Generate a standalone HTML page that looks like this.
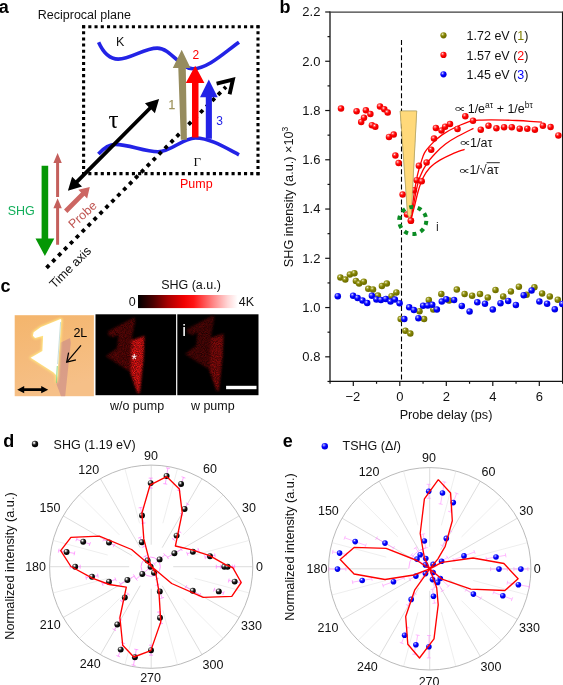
<!DOCTYPE html>
<html><head><meta charset="utf-8"><title>Figure</title>
<style>
html,body{margin:0;padding:0;background:#fff;}
svg{display:block;}
text{font-family:"Liberation Sans","DejaVu Sans",sans-serif;font-size:12.5px;fill:#111;}
.b{font-weight:bold;font-size:18px;fill:#000;}
.ser{font-family:"Liberation Serif","DejaVu Serif",serif;}
</style></head><body>
<svg width="563" height="685" viewBox="0 0 563 685">
<defs>
<radialGradient id="gR" cx="0.36" cy="0.32" r="0.7"><stop offset="0" stop-color="#ffffff"/><stop offset="0.2" stop-color="#ff6060"/><stop offset="0.5" stop-color="#ff0000"/><stop offset="1" stop-color="#e00000"/></radialGradient>
<radialGradient id="gO" cx="0.36" cy="0.32" r="0.7"><stop offset="0" stop-color="#fffff0"/><stop offset="0.2" stop-color="#b0b048"/><stop offset="0.5" stop-color="#808000"/><stop offset="1" stop-color="#6a6a00"/></radialGradient>
<radialGradient id="gB" cx="0.36" cy="0.32" r="0.7"><stop offset="0" stop-color="#ffffff"/><stop offset="0.2" stop-color="#6060ff"/><stop offset="0.5" stop-color="#0000ff"/><stop offset="1" stop-color="#0000d8"/></radialGradient>
<radialGradient id="gK" cx="0.36" cy="0.32" r="0.7"><stop offset="0" stop-color="#ffffff"/><stop offset="0.12" stop-color="#e8e8e8"/><stop offset="0.3" stop-color="#606060"/><stop offset="0.55" stop-color="#101010"/><stop offset="1" stop-color="#000000"/></radialGradient>
<linearGradient id="cb" x1="0" x2="1" y1="0" y2="0"><stop offset="0" stop-color="#000"/><stop offset="0.15" stop-color="#4a0000"/><stop offset="0.3" stop-color="#a80000"/><stop offset="0.46" stop-color="#f00000"/><stop offset="0.56" stop-color="#ff1414"/><stop offset="0.75" stop-color="#ff8484"/><stop offset="0.9" stop-color="#ffd6d6"/><stop offset="1" stop-color="#fff"/></linearGradient>
<linearGradient id="opt" x1="0" x2="0.3" y1="0" y2="1"><stop offset="0" stop-color="#f4b56c"/><stop offset="1" stop-color="#f6c088"/></linearGradient>
<filter id="bl0" x="-20%" y="-20%" width="140%" height="140%"><feGaussianBlur stdDeviation="0.45"/></filter>
<filter id="nz" filterUnits="userSpaceOnUse" x="95" y="314" width="164" height="82" color-interpolation-filters="sRGB"><feTurbulence type="fractalNoise" baseFrequency="1.1" numOctaves="2" seed="7" result="n"/><feColorMatrix in="n" type="matrix" values="1.1 0 0 0 0.12  1.1 0 0 0 0.12  1.1 0 0 0 0.12  0 0 0 0 1" result="m"/><feGaussianBlur in="SourceGraphic" stdDeviation="0.9" result="sg"/><feComposite in="sg" in2="m" operator="arithmetic" k1="1" k2="0" k3="0" k4="0" result="c"/><feGaussianBlur in="c" stdDeviation="0.5"/></filter>
<filter id="bl1" x="-20%" y="-20%" width="140%" height="140%"><feGaussianBlur stdDeviation="0.7"/></filter>
<filter id="bl2" x="-20%" y="-20%" width="140%" height="140%"><feGaussianBlur stdDeviation="1.2"/></filter>
</defs>
<rect width="563" height="685" fill="#fff"/>

<g id="pa">
<text class="b" x="-1.2" y="13.1">a</text>
<text x="37.8" y="18.7">Reciprocal plane</text>
<g stroke="#000" stroke-width="3.1" fill="none">
<line x1="82.05" y1="26.7" x2="259.55" y2="26.7" stroke-dasharray="3.1 3.129"/>
<line x1="82.05" y1="173.6" x2="259.55" y2="173.6" stroke-dasharray="3.1 3.129"/>
<line x1="83.6" y1="25.15" x2="83.6" y2="175.15" stroke-dasharray="3.1 3.021"/>
<line x1="258.0" y1="25.15" x2="258.0" y2="175.15" stroke-dasharray="3.1 3.021"/>
</g>
<g stroke="#2323e6" stroke-width="3.6" fill="none" stroke-linecap="butt">
<path d="M98.6,42.2 C103,52 110,59.1 118.2,59.1 C131,59.1 144,48.1 157.3,48.1 C171,48.1 180,68.8 192.9,68.8 C208,68.8 225,52 239,42.2"/>
<path d="M98.4,154 C103,149 108,144.4 115.4,144.4 C129,144.4 144,151.8 158,151.8 C172,151.8 182,138 195.5,138 C210,138 226,148 239,154.8"/>
</g>
<line x1="46.5" y1="267.8" x2="226" y2="86.8" stroke="#000" stroke-width="3.8" stroke-dasharray="3.8 4.6"/>
<polyline points="216.6,83.6 232.9,79.7 229.6,94.2" fill="none" stroke="#000" stroke-width="3.9" stroke-linejoin="miter"/>
<polygon points="178.3,68 180.8,139.7 186.9,139.7 185.8,68 190.5,68 181.7,49.8 172.8,68" fill="#968c5e"/>
<polygon points="192,83 192,137.5 198.5,137.5 198.5,83 204.4,83 195.2,65.8 185.8,83" fill="#ff0000"/>
<polygon points="205.8,97.3 205.8,138.8 211.9,138.8 211.9,97.3 217.7,97.3 208.8,79.5 200,97.3" fill="#2323e6"/>
<text x="192.6" y="58.7" style="fill:#ff0000;font-size:12px">2</text>
<text x="168.6" y="108.6" style="fill:#a0955f;font-size:12px;stroke:#a0955f;stroke-width:0.25">1</text>
<text x="216.3" y="124.7" style="fill:#2323e6;font-size:12px">3</text>
<text x="116" y="45.8">K</text>
<text class="ser" x="193.5" y="166" style="font-size:13px">Γ</text>
<text x="180" y="187.8" style="fill:#ff0000">Pump</text>
<text class="ser" x="108.5" y="128" style="font-size:25px;fill:#000">τ</text>
<polygon points="67.90,190.80 82.03,186.51 78.41,182.92 151.29,109.56 154.90,113.16 159.10,99.00 144.97,103.29 148.59,106.88 75.71,180.24 72.10,176.64" fill="#000"/>
<polygon points="41.6,165.8 48.2,165.8 48.2,238.5 54.3,238.5 44.9,256 35.5,238.5 41.6,238.5" fill="#059705"/>
<text x="7.7" y="214.5" style="fill:#12ae5a">SHG</text>
<polygon points="59.10,197.00 59.10,163.10 61.80,163.10 57.60,153.10 53.40,163.10 56.10,163.10 56.10,197.00" fill="#c45f5c"/>
<polygon points="59.10,244.70 59.10,208.30 61.80,208.30 57.60,198.30 53.40,208.30 56.10,208.30 56.10,244.70" fill="#c45f5c"/>
<polygon points="67.40,212.90 84.43,195.87 87.15,198.59 89.80,187.10 78.31,189.75 81.03,192.47 64.00,209.50" fill="#cc6663"/>
<text transform="translate(73,229) rotate(-42)" style="fill:#bf5552">Probe</text>
<text transform="translate(54.5,289) rotate(-45)">Time axis</text>
</g>
<g id="pb">
<text class="b" x="279.5" y="13">b</text>
<polygon points="400.2,111 416.7,111 411.2,214.5 409.3,218.2 407.6,214.5" fill="#ffd97a" stroke="#a89a60" stroke-width="0.6"/>
<line x1="401.5" y1="40" x2="401.5" y2="380" stroke="#000" stroke-width="1.1" stroke-dasharray="5 2.6"/>
<path d="M330.0,11.6V381.95M329.35,381.3H563.25M562.6,381.3V11.6" fill="none" stroke="#141414" stroke-width="1.3"/>
<line x1="330.0" y1="12.1" x2="562.6" y2="12.1" stroke="#3c3c3c" stroke-width="1.05"/>
<g stroke="#141414" stroke-width="1.2">
<line x1="327.5" y1="381.45" x2="330.0" y2="381.45"/>
<line x1="325.2" y1="356.82" x2="330.0" y2="356.82"/>
<line x1="327.5" y1="332.19" x2="330.0" y2="332.19"/>
<line x1="325.2" y1="307.56" x2="330.0" y2="307.56"/>
<line x1="327.5" y1="282.93" x2="330.0" y2="282.93"/>
<line x1="325.2" y1="258.30" x2="330.0" y2="258.30"/>
<line x1="327.5" y1="233.67" x2="330.0" y2="233.67"/>
<line x1="325.2" y1="209.04" x2="330.0" y2="209.04"/>
<line x1="327.5" y1="184.41" x2="330.0" y2="184.41"/>
<line x1="325.2" y1="159.78" x2="330.0" y2="159.78"/>
<line x1="327.5" y1="135.15" x2="330.0" y2="135.15"/>
<line x1="325.2" y1="110.52" x2="330.0" y2="110.52"/>
<line x1="327.5" y1="85.89" x2="330.0" y2="85.89"/>
<line x1="325.2" y1="61.26" x2="330.0" y2="61.26"/>
<line x1="327.5" y1="36.63" x2="330.0" y2="36.63"/>
<line x1="325.2" y1="12.00" x2="330.0" y2="12.00"/>
<line x1="330.05" y1="381.3" x2="330.05" y2="383.8"/>
<line x1="353.30" y1="381.3" x2="353.30" y2="386.1"/>
<line x1="376.55" y1="381.3" x2="376.55" y2="383.8"/>
<line x1="399.80" y1="381.3" x2="399.80" y2="386.1"/>
<line x1="423.05" y1="381.3" x2="423.05" y2="383.8"/>
<line x1="446.30" y1="381.3" x2="446.30" y2="386.1"/>
<line x1="469.55" y1="381.3" x2="469.55" y2="383.8"/>
<line x1="492.80" y1="381.3" x2="492.80" y2="386.1"/>
<line x1="516.05" y1="381.3" x2="516.05" y2="383.8"/>
<line x1="539.30" y1="381.3" x2="539.30" y2="386.1"/>
<line x1="562.60" y1="381.3" x2="562.60" y2="383.8"/>
</g>
<text x="320.4" y="361.12" text-anchor="end" style="font-size:13px">0.8</text>
<text x="320.4" y="311.86" text-anchor="end" style="font-size:13px">1.0</text>
<text x="320.4" y="262.60" text-anchor="end" style="font-size:13px">1.2</text>
<text x="320.4" y="213.34" text-anchor="end" style="font-size:13px">1.4</text>
<text x="320.4" y="164.08" text-anchor="end" style="font-size:13px">1.6</text>
<text x="320.4" y="114.82" text-anchor="end" style="font-size:13px">1.8</text>
<text x="320.4" y="65.56" text-anchor="end" style="font-size:13px">2.0</text>
<text x="320.4" y="16.30" text-anchor="end" style="font-size:13px">2.2</text>
<text x="352.80" y="400.6" text-anchor="middle" style="font-size:13px">−2</text>
<text x="399.80" y="400.6" text-anchor="middle" style="font-size:13px">0</text>
<text x="446.30" y="400.6" text-anchor="middle" style="font-size:13px">2</text>
<text x="492.80" y="400.6" text-anchor="middle" style="font-size:13px">4</text>
<text x="539.30" y="400.6" text-anchor="middle" style="font-size:13px">6</text>
<text x="446" y="418.8" text-anchor="middle" style="font-size:12.65px">Probe delay (ps)</text>
<text transform="translate(292.7,197) rotate(-90)" text-anchor="middle" style="font-size:12.7px">SHG intensity (a.u.) ×10<tspan dy="-4.5" style="font-size:8.5px">3</tspan></text>
<circle cx="443.5" cy="35.3" r="3.1" fill="url(#gO)"/>
<text x="466.6" y="39.9">1.72 eV (<tspan style="fill:#808000">1</tspan>)</text>
<circle cx="443.5" cy="54.9" r="3.1" fill="url(#gR)"/>
<text x="466.6" y="59.5">1.57 eV (<tspan style="fill:#ff0000">2</tspan>)</text>
<circle cx="443.5" cy="74.3" r="3.1" fill="url(#gB)"/>
<text x="466.6" y="78.9">1.45 eV (<tspan style="fill:#0000ff">3</tspan>)</text>
<g fill="none" stroke="#ff0000" stroke-width="1.3">
<path d="M410.9,219.9 C411.2,217.3 411.9,209.7 412.6,204.5 C413.3,199.3 414.1,193.8 414.9,188.8 C415.7,183.9 416.5,179.2 417.5,174.8 C418.5,170.4 419.8,166.2 421.0,162.5 C422.2,158.8 422.8,156.0 424.5,152.9 C426.2,149.8 428.6,147.1 431.5,144.1 C434.4,141.1 437.9,137.8 442.0,134.9 C446.1,132.1 451.0,129.3 456.0,127.0 C461.0,124.7 467.5,122.1 471.8,120.9 C476.1,119.8 478.8,120.3 482.0,120.1 C485.2,119.9 487.2,119.9 491.0,119.9 C494.8,119.9 500.8,120.0 505.0,120.1 C509.2,120.2 512.1,120.3 516.3,120.5 C520.5,120.7 525.7,121.0 530.0,121.3 C534.3,121.6 540.0,122.0 542.0,122.1"/>
<path d="M410.9,219.9 C411.4,217.3 412.8,209.7 413.7,204.5 C414.6,199.3 415.5,193.5 416.6,188.8 C417.7,184.1 418.5,180.6 420.1,176.5 C421.7,172.4 423.8,168.1 426.3,164.3 C428.8,160.5 431.8,157.2 435.0,153.8 C438.2,150.4 441.7,147.0 445.5,144.1 C449.3,141.2 453.1,138.9 457.8,136.3 C462.5,133.7 470.9,129.7 473.5,128.4"/>
<path d="M410.9,219.9 C411.6,217.3 413.6,209.4 414.9,204.5 C416.1,199.6 417.1,194.9 418.4,190.5 C419.7,186.1 420.9,182.1 422.8,178.3 C424.7,174.5 426.9,170.9 429.8,167.8 C432.7,164.7 436.5,162.2 440.3,159.9 C444.1,157.6 448.4,155.6 452.5,153.8 C456.6,152.0 462.6,150.1 464.6,149.3"/>
</g>
<clipPath id="cpb"><rect x="330.0" y="12.1" width="233.40000000000003" height="369.2"/></clipPath>
<g clip-path="url(#cpb)">
<circle cx="340.4" cy="277.5" r="3.25" fill="url(#gO)"/>
<circle cx="345.3" cy="279.6" r="3.25" fill="url(#gO)"/>
<circle cx="349.9" cy="274.5" r="3.25" fill="url(#gO)"/>
<circle cx="354.4" cy="273.2" r="3.25" fill="url(#gO)"/>
<circle cx="355.9" cy="280.9" r="3.25" fill="url(#gO)"/>
<circle cx="359.1" cy="283.5" r="3.25" fill="url(#gO)"/>
<circle cx="363.8" cy="281.7" r="3.25" fill="url(#gO)"/>
<circle cx="368.3" cy="288.8" r="3.25" fill="url(#gO)"/>
<circle cx="373" cy="289.4" r="3.25" fill="url(#gO)"/>
<circle cx="377.9" cy="295.6" r="3.25" fill="url(#gO)"/>
<circle cx="381.9" cy="286" r="3.25" fill="url(#gO)"/>
<circle cx="386.8" cy="283.5" r="3.25" fill="url(#gO)"/>
<circle cx="391.5" cy="296.2" r="3.25" fill="url(#gO)"/>
<circle cx="396.4" cy="292.4" r="3.25" fill="url(#gO)"/>
<circle cx="400.7" cy="319.1" r="3.25" fill="url(#gO)"/>
<circle cx="405.4" cy="330.8" r="3.25" fill="url(#gO)"/>
<circle cx="410.3" cy="333.6" r="3.25" fill="url(#gO)"/>
<circle cx="419.5" cy="311.2" r="3.25" fill="url(#gO)"/>
<circle cx="424.1" cy="319.1" r="3.25" fill="url(#gO)"/>
<circle cx="428.8" cy="300.1" r="3.25" fill="url(#gO)"/>
<circle cx="433.3" cy="309.5" r="3.25" fill="url(#gO)"/>
<circle cx="441.3" cy="293.9" r="3.25" fill="url(#gO)"/>
<circle cx="449.1" cy="300.5" r="3.25" fill="url(#gO)"/>
<circle cx="456.8" cy="289.6" r="3.25" fill="url(#gO)"/>
<circle cx="464.6" cy="294.1" r="3.25" fill="url(#gO)"/>
<circle cx="472.1" cy="295.7" r="3.25" fill="url(#gO)"/>
<circle cx="480" cy="294.1" r="3.25" fill="url(#gO)"/>
<circle cx="487.8" cy="297.5" r="3.25" fill="url(#gO)"/>
<circle cx="495.5" cy="290" r="3.25" fill="url(#gO)"/>
<circle cx="503.2" cy="296.4" r="3.25" fill="url(#gO)"/>
<circle cx="510.9" cy="291.4" r="3.25" fill="url(#gO)"/>
<circle cx="518.9" cy="286.8" r="3.25" fill="url(#gO)"/>
<circle cx="526.6" cy="294.8" r="3.25" fill="url(#gO)"/>
<circle cx="534.4" cy="287.3" r="3.25" fill="url(#gO)"/>
<circle cx="542.1" cy="293.4" r="3.25" fill="url(#gO)"/>
<circle cx="549.8" cy="296.4" r="3.25" fill="url(#gO)"/>
<circle cx="557.8" cy="299.8" r="3.25" fill="url(#gO)"/>
<circle cx="337.8" cy="296.2" r="3.25" fill="url(#gB)"/>
<circle cx="353.1" cy="295.8" r="3.25" fill="url(#gB)"/>
<circle cx="357.6" cy="298" r="3.25" fill="url(#gB)"/>
<circle cx="362.5" cy="300.5" r="3.25" fill="url(#gB)"/>
<circle cx="367.2" cy="303.1" r="3.25" fill="url(#gB)"/>
<circle cx="371.9" cy="295.8" r="3.25" fill="url(#gB)"/>
<circle cx="376.4" cy="299.4" r="3.25" fill="url(#gB)"/>
<circle cx="380.9" cy="299.9" r="3.25" fill="url(#gB)"/>
<circle cx="385.8" cy="299" r="3.25" fill="url(#gB)"/>
<circle cx="390.5" cy="301.6" r="3.25" fill="url(#gB)"/>
<circle cx="394.9" cy="299.4" r="3.25" fill="url(#gB)"/>
<circle cx="399.6" cy="303.3" r="3.25" fill="url(#gB)"/>
<circle cx="404.3" cy="319.1" r="3.25" fill="url(#gB)"/>
<circle cx="409.2" cy="307.3" r="3.25" fill="url(#gB)"/>
<circle cx="413.9" cy="310.1" r="3.25" fill="url(#gB)"/>
<circle cx="418.4" cy="318.2" r="3.25" fill="url(#gB)"/>
<circle cx="423.1" cy="305.8" r="3.25" fill="url(#gB)"/>
<circle cx="427.8" cy="305.4" r="3.25" fill="url(#gB)"/>
<circle cx="432.2" cy="304.8" r="3.25" fill="url(#gB)"/>
<circle cx="436.9" cy="309.4" r="3.25" fill="url(#gB)"/>
<circle cx="441.8" cy="301.6" r="3.25" fill="url(#gB)"/>
<circle cx="446.2" cy="299.2" r="3.25" fill="url(#gB)"/>
<circle cx="454.1" cy="300" r="3.25" fill="url(#gB)"/>
<circle cx="461.8" cy="305.9" r="3.25" fill="url(#gB)"/>
<circle cx="469.6" cy="311.4" r="3.25" fill="url(#gB)"/>
<circle cx="477.3" cy="302.3" r="3.25" fill="url(#gB)"/>
<circle cx="485" cy="303.7" r="3.25" fill="url(#gB)"/>
<circle cx="492.8" cy="309.6" r="3.25" fill="url(#gB)"/>
<circle cx="500.5" cy="303.2" r="3.25" fill="url(#gB)"/>
<circle cx="508.2" cy="300.9" r="3.25" fill="url(#gB)"/>
<circle cx="515.9" cy="305" r="3.25" fill="url(#gB)"/>
<circle cx="523.7" cy="295.2" r="3.25" fill="url(#gB)"/>
<circle cx="531.6" cy="290.5" r="3.25" fill="url(#gB)"/>
<circle cx="539.4" cy="301.4" r="3.25" fill="url(#gB)"/>
<circle cx="547.1" cy="303.7" r="3.25" fill="url(#gB)"/>
<circle cx="554.8" cy="309.3" r="3.25" fill="url(#gB)"/>
<circle cx="562.3" cy="303.9" r="3.25" fill="url(#gB)"/>
<circle cx="341" cy="108.5" r="3.25" fill="url(#gR)"/>
<circle cx="356.6" cy="111.3" r="3.25" fill="url(#gR)"/>
<circle cx="365.9" cy="110.3" r="3.25" fill="url(#gR)"/>
<circle cx="370.4" cy="114.1" r="3.25" fill="url(#gR)"/>
<circle cx="364" cy="117.7" r="3.25" fill="url(#gR)"/>
<circle cx="361.2" cy="122" r="3.25" fill="url(#gR)"/>
<circle cx="380" cy="106.4" r="3.25" fill="url(#gR)"/>
<circle cx="384.3" cy="109.2" r="3.25" fill="url(#gR)"/>
<circle cx="387.7" cy="112.6" r="3.25" fill="url(#gR)"/>
<circle cx="371.9" cy="125.2" r="3.25" fill="url(#gR)"/>
<circle cx="375.3" cy="126.7" r="3.25" fill="url(#gR)"/>
<circle cx="389" cy="136.9" r="3.25" fill="url(#gR)"/>
<circle cx="393.7" cy="134.6" r="3.25" fill="url(#gR)"/>
<circle cx="395.4" cy="155.5" r="3.25" fill="url(#gR)"/>
<circle cx="398.6" cy="163.1" r="3.25" fill="url(#gR)"/>
<circle cx="402.6" cy="194.5" r="3.25" fill="url(#gR)"/>
<circle cx="407" cy="214.5" r="3.25" fill="url(#gR)"/>
<circle cx="413.8" cy="190.2" r="3.25" fill="url(#gR)"/>
<circle cx="416.7" cy="180.2" r="3.25" fill="url(#gR)"/>
<circle cx="421.7" cy="181.3" r="3.25" fill="url(#gR)"/>
<circle cx="418.9" cy="165.7" r="3.25" fill="url(#gR)"/>
<circle cx="426.6" cy="162.5" r="3.25" fill="url(#gR)"/>
<circle cx="431.2" cy="149.7" r="3.25" fill="url(#gR)"/>
<circle cx="434" cy="138.6" r="3.25" fill="url(#gR)"/>
<circle cx="435.9" cy="128" r="3.25" fill="url(#gR)"/>
<circle cx="441.5" cy="130.5" r="3.25" fill="url(#gR)"/>
<circle cx="445.1" cy="126.7" r="3.25" fill="url(#gR)"/>
<circle cx="450" cy="124.1" r="3.25" fill="url(#gR)"/>
<circle cx="457.5" cy="129" r="3.25" fill="url(#gR)"/>
<circle cx="465.3" cy="116.2" r="3.25" fill="url(#gR)"/>
<circle cx="473" cy="120.8" r="3.25" fill="url(#gR)"/>
<circle cx="480.8" cy="129.7" r="3.25" fill="url(#gR)"/>
<circle cx="488.5" cy="125.8" r="3.25" fill="url(#gR)"/>
<circle cx="496.4" cy="128.3" r="3.25" fill="url(#gR)"/>
<circle cx="504.1" cy="127.2" r="3.25" fill="url(#gR)"/>
<circle cx="511.8" cy="127.2" r="3.25" fill="url(#gR)"/>
<circle cx="519.7" cy="128.7" r="3.25" fill="url(#gR)"/>
<circle cx="527.3" cy="128.7" r="3.25" fill="url(#gR)"/>
<circle cx="534.9" cy="129.7" r="3.25" fill="url(#gR)"/>
<circle cx="542.9" cy="125.8" r="3.25" fill="url(#gR)"/>
<circle cx="550.6" cy="127.1" r="3.25" fill="url(#gR)"/>
<circle cx="558.4" cy="135.4" r="3.25" fill="url(#gR)"/>
<circle cx="410.9" cy="220.7" r="3.25" fill="url(#gR)"/>
</g>
<polygon points="400.2,111 416.7,111 411.2,214.5 409.3,218.2 407.6,214.5" fill="#ffd97a" stroke="#a89a60" stroke-width="0.6"/>
<circle cx="410.9" cy="220.7" r="3.25" fill="url(#gR)"/>
<circle cx="412.7" cy="220.5" r="13.6" fill="none" stroke="#0b8c24" stroke-width="4" stroke-dasharray="4.02 4.53" transform="rotate(1.5 412.7 220.5)"/>
<text x="436" y="230.5" style="fill:#333">i</text>
<text transform="translate(453.4,112.0) scale(1.07,0.63)" style="font-size:16px">∝</text>
<text x="467.7" y="112.8">1/e<tspan dy="-4.5" style="font-size:8.5px">aτ</tspan><tspan dy="4.5"> + 1/e</tspan><tspan dy="-4.5" style="font-size:8.5px">bτ</tspan></text>
<text transform="translate(458.8,145.7) scale(1.07,0.63)" style="font-size:16px">∝</text>
<text x="470.0" y="146.5">1/aτ</text>
<text transform="translate(457.9,173.6) scale(1.07,0.63)" style="font-size:16px">∝</text>
<text x="469.4" y="174">1/√aτ</text>
<line x1="486.6" y1="162.7" x2="499.8" y2="162.7" stroke="#111" stroke-width="0.9"/>
</g>
<g id="pc">
<text class="b" x="0.4" y="292.4">c</text>
<rect x="14.7" y="315.2" width="79.2" height="81" fill="url(#opt)"/>
<polygon points="58.3,343.8 70.1,338 70.8,343.1 65.2,396.2 61.0,396.2 55.6,381.7 56.3,375" fill="#c98a8a" opacity="0.62" filter="url(#bl1)"/>
<polygon points="60.6,319.1 41,327.1 33.7,332.2 32.9,335.8 35.1,338 43.1,335.8 42.4,351.1 30.7,357.7 53.3,372.3 56.2,375.2 56.4,381.7 57.5,375 61.3,319.8" fill="#ffe27a" stroke="#ffe680" stroke-width="2.4" stroke-linejoin="round" filter="url(#bl2)"/>
<polygon points="60.6,319.1 41,327.1 33.7,332.2 32.9,335.8 35.1,338 43.1,335.8 42.4,351.1 30.7,357.7 53.3,372.3 56.2,375.2 56.4,381.7 57.5,375 61.3,319.8" fill="#fff" filter="url(#bl0)"/>
<line x1="56.3" y1="383" x2="57.3" y2="366" stroke="#86d67a" stroke-width="1.1" opacity="0.8" filter="url(#bl0)"/>
<line x1="57.6" y1="364" x2="60.6" y2="322" stroke="#9fc6c0" stroke-width="0.8" opacity="0.7" filter="url(#bl0)"/>
<text x="73.4" y="336.7" style="fill:#000">2L</text>
<g stroke="#000" stroke-width="1.2" fill="none"><line x1="81" y1="345.3" x2="67" y2="361.8"/><polyline points="68.6,352.6 66.7,362.1 75.9,359.9"/></g>
<polygon points="17.20,389.70 24.20,393.30 24.20,391.10 41.20,391.10 41.20,393.30 48.20,389.70 41.20,386.10 41.20,388.30 24.20,388.30 24.20,386.10" fill="#000"/>
<text x="191" y="289" text-anchor="middle">SHG (a.u.)</text>
<rect x="138" y="295" width="99.7" height="13.1" fill="url(#cb)"/>
<text x="128.8" y="306.2">0</text>
<text x="238.7" y="306.2">4K</text>
<rect x="95.5" y="314.3" width="80.6" height="80.9" fill="#000"/>
<rect x="177.3" y="314.3" width="81.2" height="80.9" fill="#000"/>
<g filter="url(#nz)">
<polygon points="134.5,317.3 107.7,331.6 108.5,335.2 113.6,337.2 118.4,334.6 117.2,347.9 105.9,356.3 130.4,371.9 131.4,340.3 135.2,321.2" fill="#620606"/>
<polygon points="131.4,340.3 144.4,336.1 143.6,357.8 139.8,393 137.5,393 130.4,373.1" fill="#ff1616"/>
<g transform="translate(79.1,-2.3)">
<polygon points="134.5,317.3 107.7,331.6 108.5,335.2 113.6,337.2 118.4,334.6 117.2,347.9 105.9,356.3 130.4,371.9 131.4,340.3 135.2,321.2" fill="#560606"/>
<polygon points="131.4,340.3 144.4,336.1 143.6,357.8 139.8,393 137.5,393 130.4,373.1" fill="#920b0b"/>
</g></g>
<text x="134.3" y="363.5" text-anchor="middle" style="fill:#fff;font-size:14px">*</text>
<text x="182.2" y="335.8" style="fill:#fff;font-size:17px">i</text>
<rect x="226.1" y="385.8" width="30.4" height="3.4" fill="#fff"/>
<text x="137" y="409.5" text-anchor="middle">w/o pump</text>
<text x="212.8" y="409.5" text-anchor="middle">w pump</text>
</g>
<g id="pd">
<text class="b" x="3.3" y="447.4">d</text>
<circle cx="35" cy="444" r="3.2" fill="url(#gK)"/>
<text x="53.6" y="449">SHG (1.19 eV)</text>
<text transform="translate(14.4,566) rotate(-90)" text-anchor="middle" style="font-size:12.7px">Normalized intensity (a.u.)</text>
<circle cx="151.2" cy="566.7" r="101.6" fill="none" stroke="#a8a8a8" stroke-width="0.8"/>
<line x1="173.20" y1="566.70" x2="252.80" y2="566.70" stroke="#bababa" stroke-width="0.5"/>
<line x1="194.67" y1="555.05" x2="249.34" y2="540.40" stroke="#dcdcdc" stroke-width="0.5"/>
<line x1="170.25" y1="555.70" x2="239.19" y2="515.90" stroke="#bababa" stroke-width="0.5"/>
<line x1="183.02" y1="534.88" x2="223.04" y2="494.86" stroke="#dcdcdc" stroke-width="0.5"/>
<line x1="162.20" y1="547.65" x2="202.00" y2="478.71" stroke="#bababa" stroke-width="0.5"/>
<line x1="162.85" y1="523.23" x2="177.50" y2="468.56" stroke="#dcdcdc" stroke-width="0.5"/>
<line x1="151.20" y1="544.70" x2="151.20" y2="465.10" stroke="#bababa" stroke-width="0.5"/>
<line x1="139.55" y1="523.23" x2="124.90" y2="468.56" stroke="#dcdcdc" stroke-width="0.5"/>
<line x1="140.20" y1="547.65" x2="100.40" y2="478.71" stroke="#bababa" stroke-width="0.5"/>
<line x1="119.38" y1="534.88" x2="79.36" y2="494.86" stroke="#dcdcdc" stroke-width="0.5"/>
<line x1="132.15" y1="555.70" x2="63.21" y2="515.90" stroke="#bababa" stroke-width="0.5"/>
<line x1="107.73" y1="555.05" x2="53.06" y2="540.40" stroke="#dcdcdc" stroke-width="0.5"/>
<line x1="129.20" y1="566.70" x2="49.60" y2="566.70" stroke="#bababa" stroke-width="0.5"/>
<line x1="107.73" y1="578.35" x2="53.06" y2="593.00" stroke="#dcdcdc" stroke-width="0.5"/>
<line x1="132.15" y1="577.70" x2="63.21" y2="617.50" stroke="#bababa" stroke-width="0.5"/>
<line x1="119.38" y1="598.52" x2="79.36" y2="638.54" stroke="#dcdcdc" stroke-width="0.5"/>
<line x1="140.20" y1="585.75" x2="100.40" y2="654.69" stroke="#bababa" stroke-width="0.5"/>
<line x1="139.55" y1="610.17" x2="124.90" y2="664.84" stroke="#dcdcdc" stroke-width="0.5"/>
<line x1="151.20" y1="588.70" x2="151.20" y2="668.30" stroke="#bababa" stroke-width="0.5"/>
<line x1="162.85" y1="610.17" x2="177.50" y2="664.84" stroke="#dcdcdc" stroke-width="0.5"/>
<line x1="162.20" y1="585.75" x2="202.00" y2="654.69" stroke="#bababa" stroke-width="0.5"/>
<line x1="183.02" y1="598.52" x2="223.04" y2="638.54" stroke="#dcdcdc" stroke-width="0.5"/>
<line x1="170.25" y1="577.70" x2="239.19" y2="617.50" stroke="#bababa" stroke-width="0.5"/>
<line x1="194.67" y1="578.35" x2="249.34" y2="593.00" stroke="#dcdcdc" stroke-width="0.5"/>
<circle cx="150.7" cy="566.7" r="9.6" fill="none" stroke="#ff90ff" stroke-width="0.9"/>
<g stroke="#ff80ff" stroke-width="0.7" fill="none" opacity="1">
<path d="M150.7,488.1L150.7,478.1M148.7,488.1L152.7,488.1M148.7,478.1L152.7,478.1"/>
<path d="M165.3,483.9L167.9,468.1M163.3,483.6L167.2,484.2M166.0,467.8L169.9,468.4"/>
<path d="M178.7,490.6L183.5,477.4M176.8,489.9L180.6,491.3M181.6,476.7L185.4,478.1"/>
<path d="M181.6,514.2L187.6,503.8M179.9,513.2L183.3,515.2M185.9,502.8L189.3,504.8"/>
<path d="M173.4,539.5L179.8,531.7M171.9,538.2L175.0,540.7M178.2,530.5L181.3,533.0"/>
<path d="M167.5,557.3L181.3,549.3M166.5,555.6L168.5,559.0M180.3,547.6L182.3,551.0"/>
<path d="M154.3,564.0L164.9,554.8M153.0,562.5L155.6,565.5M163.6,553.3L166.2,556.3"/>
<path d="M187.2,553.8L198.6,549.8M186.6,551.9L187.9,555.7M197.9,547.9L199.2,551.7"/>
<path d="M205.1,557.2L214.9,555.4M204.7,555.2L205.4,559.1M214.6,553.5L215.3,557.4"/>
<path d="M216.3,566.7L232.3,566.7M216.3,564.7L216.3,568.7M232.3,564.7L232.3,568.7"/>
<path d="M220.6,566.7L234.6,566.7M220.6,564.7L220.6,568.7M234.6,564.7L234.6,568.7"/>
<path d="M228.8,580.5L240.6,582.7M229.1,578.6L228.4,582.5M241.0,580.7L240.3,584.6"/>
<path d="M214.1,589.7L223.5,593.1M214.8,587.8L213.4,591.6M224.2,591.2L222.8,595.0"/>
<path d="M185.9,586.8L199.7,594.8M186.9,585.1L184.9,588.5M200.7,593.1L198.7,596.5"/>
<path d="M151.0,566.4L157.0,579.0M152.9,565.5L149.2,567.2M158.8,578.2L155.1,579.9"/>
<path d="M150.1,564.7L145.1,556.1M148.3,565.7L151.8,563.7M143.4,557.1L146.9,555.1"/>
<path d="M148.5,568.9L136.1,579.1M149.8,570.5L147.2,567.4M137.4,580.6L134.8,577.5"/>
<path d="M157.5,584.8L162.1,598.0M159.4,584.1L155.6,585.4M164.0,597.4L160.2,598.7"/>
<path d="M159.0,611.9L161.0,623.7M161.0,611.5L157.0,612.2M163.0,623.4L159.0,624.1"/>
<path d="M151.0,645.2L151.0,655.2M153.0,645.2L149.0,645.2M153.0,655.2L149.0,655.2"/>
<path d="M136.3,649.4L133.5,665.2M138.3,649.8L134.3,649.1M135.5,665.5L131.5,664.8"/>
<path d="M123.1,643.0L118.3,656.2M125.0,643.7L121.2,642.3M120.2,656.9L116.4,655.5"/>
<path d="M120.3,619.3L114.3,629.7M122.1,620.3L118.6,618.3M116.0,630.7L112.5,628.7"/>
<path d="M128.1,593.7L121.5,601.3M129.6,595.0L126.5,592.4M123.1,602.6L120.0,600.0"/>
<path d="M134.4,576.1L120.4,583.9M135.4,577.8L133.4,574.4M121.4,585.6L119.4,582.2"/>
<path d="M115.6,579.4L102.4,584.0M116.3,581.2L114.9,577.5M103.1,585.9L101.7,582.2"/>
<path d="M97.9,575.7L86.1,577.7M98.2,577.7L97.6,573.7M86.4,579.7L85.8,575.7"/>
<path d="M80.2,566.7L70.2,566.7M80.2,568.7L80.2,564.7M70.2,568.7L70.2,564.7"/>
<path d="M74.5,553.4L58.7,550.6M74.1,555.3L74.8,551.4M58.4,552.6L59.1,548.7"/>
<path d="M89.8,544.1L76.6,539.3M89.1,546.0L90.5,542.2M75.9,541.2L77.3,537.4"/>
<path d="M114.2,545.5L103.8,539.5M113.2,547.2L115.2,543.7M102.8,541.3L104.8,537.8"/>
<path d="M143.6,546.9L140.0,537.5M141.7,547.6L145.5,546.2M138.1,538.2L141.9,536.8"/>
<path d="M143.4,523.3L140.6,507.5M141.4,523.6L145.4,522.9M138.6,507.9L142.6,507.2"/>
</g>
<circle cx="150.7" cy="483.1" r="2.95" fill="url(#gK)"/>
<circle cx="166.6" cy="476" r="2.95" fill="url(#gK)"/>
<circle cx="181.1" cy="484" r="2.95" fill="url(#gK)"/>
<circle cx="184.6" cy="509" r="2.95" fill="url(#gK)"/>
<circle cx="176.6" cy="535.6" r="2.95" fill="url(#gK)"/>
<circle cx="174.4" cy="553.3" r="2.95" fill="url(#gK)"/>
<circle cx="159.6" cy="559.4" r="2.95" fill="url(#gK)"/>
<circle cx="192.9" cy="551.8" r="2.95" fill="url(#gK)"/>
<circle cx="210" cy="556.3" r="2.95" fill="url(#gK)"/>
<circle cx="224.3" cy="566.7" r="2.95" fill="url(#gK)"/>
<circle cx="227.6" cy="566.7" r="2.95" fill="url(#gK)"/>
<circle cx="234.7" cy="581.6" r="2.95" fill="url(#gK)"/>
<circle cx="218.8" cy="591.4" r="2.95" fill="url(#gK)"/>
<circle cx="192.8" cy="590.8" r="2.95" fill="url(#gK)"/>
<circle cx="154" cy="572.7" r="2.95" fill="url(#gK)"/>
<circle cx="150.6" cy="566.7" r="2.95" fill="url(#gK)"/>
<circle cx="147.6" cy="560.4" r="2.95" fill="url(#gK)"/>
<circle cx="142.3" cy="574" r="2.95" fill="url(#gK)"/>
<circle cx="159.8" cy="591.4" r="2.95" fill="url(#gK)"/>
<circle cx="160" cy="617.8" r="2.95" fill="url(#gK)"/>
<circle cx="151" cy="650.2" r="2.95" fill="url(#gK)"/>
<circle cx="134.9" cy="657.3" r="2.95" fill="url(#gK)"/>
<circle cx="120.7" cy="649.6" r="2.95" fill="url(#gK)"/>
<circle cx="117.3" cy="624.5" r="2.95" fill="url(#gK)"/>
<circle cx="124.8" cy="597.5" r="2.95" fill="url(#gK)"/>
<circle cx="127.4" cy="580" r="2.95" fill="url(#gK)"/>
<circle cx="109" cy="581.7" r="2.95" fill="url(#gK)"/>
<circle cx="92" cy="576.7" r="2.95" fill="url(#gK)"/>
<circle cx="75.2" cy="566.7" r="2.95" fill="url(#gK)"/>
<circle cx="66.6" cy="552" r="2.95" fill="url(#gK)"/>
<circle cx="83.2" cy="541.7" r="2.95" fill="url(#gK)"/>
<circle cx="109" cy="542.5" r="2.95" fill="url(#gK)"/>
<circle cx="141.8" cy="542.2" r="2.95" fill="url(#gK)"/>
<circle cx="142" cy="515.4" r="2.95" fill="url(#gK)"/>
<polyline fill="none" stroke="#ff0000" stroke-width="1.35" stroke-linejoin="round" points="150,485.2 166.6,476.6 179.3,488.9 182.2,512.8 175.4,546 192,549.9 209.6,555.7 225.9,564.8 232.8,567.7 241.2,582.5 231.8,596.3 203.2,597.3 171.7,583.5 151.5,566.5 155.9,573.7 158.9,591.4 160.8,621.9 150.8,650.6 133.8,657 122.7,645.3 119.9,617.5 126.3,587.1 109.3,584.5 92.2,578.1 70.9,566.5 60.7,550.6 70.9,537.4 99.3,536.1 131.6,549.5 151.5,566.5 149.8,562.3 143.8,538.9 141.9,513.3 150,485.2"/>
<text x="151.0" y="459.9" text-anchor="middle">90</text>
<text x="210" y="473.1" text-anchor="middle">60</text>
<text x="248.9" y="511.6" text-anchor="middle">30</text>
<text x="259.4" y="570.8" text-anchor="middle">0</text>
<text x="251.5" y="630.4" text-anchor="middle">330</text>
<text x="213" y="668.9" text-anchor="middle">300</text>
<text x="150.6" y="682.3" text-anchor="middle">270</text>
<text x="90.2" y="667.9" text-anchor="middle">240</text>
<text x="50.2" y="629.4" text-anchor="middle">210</text>
<text x="35.6" y="571.4" text-anchor="middle">180</text>
<text x="50" y="512.2" text-anchor="middle">150</text>
<text x="88.8" y="473.9" text-anchor="middle">120</text>
</g>
<g id="pe">
<text class="b" x="282.8" y="447.4">e</text>
<circle cx="324.8" cy="446.2" r="3.2" fill="url(#gB)"/>
<text x="342.6" y="450.4">TSHG (Δ<tspan font-style="italic">I</tspan>)</text>
<text transform="translate(294.2,547) rotate(-90)" text-anchor="middle" style="font-size:12.7px">Normalized intensity (a.u.)</text>
<circle cx="429.7" cy="568.8" r="101.2" fill="none" stroke="#a8a8a8" stroke-width="0.8"/>
<line x1="451.70" y1="568.80" x2="530.90" y2="568.80" stroke="#bababa" stroke-width="0.5"/>
<line x1="473.17" y1="557.15" x2="527.45" y2="542.61" stroke="#dcdcdc" stroke-width="0.5"/>
<line x1="448.75" y1="557.80" x2="517.34" y2="518.20" stroke="#bababa" stroke-width="0.5"/>
<line x1="461.52" y1="536.98" x2="501.26" y2="497.24" stroke="#dcdcdc" stroke-width="0.5"/>
<line x1="440.70" y1="549.75" x2="480.30" y2="481.16" stroke="#bababa" stroke-width="0.5"/>
<line x1="441.35" y1="525.33" x2="455.89" y2="471.05" stroke="#dcdcdc" stroke-width="0.5"/>
<line x1="429.70" y1="546.80" x2="429.70" y2="467.60" stroke="#bababa" stroke-width="0.5"/>
<line x1="418.05" y1="525.33" x2="403.51" y2="471.05" stroke="#dcdcdc" stroke-width="0.5"/>
<line x1="418.70" y1="549.75" x2="379.10" y2="481.16" stroke="#bababa" stroke-width="0.5"/>
<line x1="397.88" y1="536.98" x2="358.14" y2="497.24" stroke="#dcdcdc" stroke-width="0.5"/>
<line x1="410.65" y1="557.80" x2="342.06" y2="518.20" stroke="#bababa" stroke-width="0.5"/>
<line x1="386.23" y1="557.15" x2="331.95" y2="542.61" stroke="#dcdcdc" stroke-width="0.5"/>
<line x1="407.70" y1="568.80" x2="328.50" y2="568.80" stroke="#bababa" stroke-width="0.5"/>
<line x1="386.23" y1="580.45" x2="331.95" y2="594.99" stroke="#dcdcdc" stroke-width="0.5"/>
<line x1="410.65" y1="579.80" x2="342.06" y2="619.40" stroke="#bababa" stroke-width="0.5"/>
<line x1="397.88" y1="600.62" x2="358.14" y2="640.36" stroke="#dcdcdc" stroke-width="0.5"/>
<line x1="418.70" y1="587.85" x2="379.10" y2="656.44" stroke="#bababa" stroke-width="0.5"/>
<line x1="418.05" y1="612.27" x2="403.51" y2="666.55" stroke="#dcdcdc" stroke-width="0.5"/>
<line x1="429.70" y1="590.80" x2="429.70" y2="670.00" stroke="#bababa" stroke-width="0.5"/>
<line x1="441.35" y1="612.27" x2="455.89" y2="666.55" stroke="#dcdcdc" stroke-width="0.5"/>
<line x1="440.70" y1="587.85" x2="480.30" y2="656.44" stroke="#bababa" stroke-width="0.5"/>
<line x1="461.52" y1="600.62" x2="501.26" y2="640.36" stroke="#dcdcdc" stroke-width="0.5"/>
<line x1="448.75" y1="579.80" x2="517.34" y2="619.40" stroke="#bababa" stroke-width="0.5"/>
<line x1="473.17" y1="580.45" x2="527.45" y2="594.99" stroke="#dcdcdc" stroke-width="0.5"/>
<path d="M408.7,568.8 A21,21 0 0 1 425.7,548.1999999999999" fill="none" stroke="#ff7cff" stroke-width="0.6"/>
<g stroke="#ff80ff" stroke-width="0.7" fill="none" opacity="0.75">
<path d="M428.8,498.3L428.6,484.3M426.8,498.3L430.8,498.3M426.6,484.3L430.6,484.3"/>
<path d="M440.6,504.0L444.4,482.0M438.7,503.7L442.6,504.4M442.4,481.6L446.3,482.3"/>
<path d="M450.0,511.8L456.6,493.4M448.1,511.2L451.9,512.5M454.7,492.7L458.5,494.0"/>
<path d="M442.3,545.8L450.3,531.0M440.5,544.8L444.0,546.7M448.6,530.1L452.1,532.0"/>
<path d="M425.7,547.9L423.1,534.1M423.7,548.3L427.7,547.5M421.1,534.5L425.1,533.7"/>
<path d="M453.5,559.8L474.5,552.0M452.8,558.0L454.2,561.7M473.8,550.1L475.2,553.8"/>
<path d="M486.4,558.7L505.6,555.3M486.0,556.7L486.7,560.7M505.3,553.3L506.0,557.3"/>
<path d="M490.6,569.1L507.4,569.1M490.6,567.1L490.6,571.1M507.4,567.1L507.4,571.1"/>
<path d="M513.9,569.1L527.9,569.1M513.9,567.1L513.9,571.1M527.9,567.1L527.9,571.1"/>
<path d="M507.4,582.7L529.4,586.7M507.7,580.8L507.0,584.7M529.8,584.7L529.1,588.6"/>
<path d="M493.6,592.4L512.0,599.2M494.3,590.5L492.9,594.3M512.7,597.3L511.3,601.1"/>
<path d="M466.1,589.9L480.7,598.3M467.1,588.2L465.1,591.6M481.7,596.6L479.7,600.0"/>
<path d="M435.7,565.0L447.5,557.4M434.6,563.3L436.8,566.7M446.4,555.7L448.6,559.1"/>
<path d="M429.3,567.7L422.3,549.3M427.4,568.4L431.1,567.0M420.5,550.0L424.2,548.6"/>
<path d="M424.9,561.8L415.5,547.8M423.3,562.9L426.6,560.6M413.8,549.0L417.1,546.7"/>
<path d="M422.6,563.3L411.4,554.9M421.3,564.9L423.8,561.8M410.2,556.4L412.7,553.3"/>
<path d="M431.0,567.3L420.0,579.9M432.5,568.6L429.5,566.0M421.5,581.2L418.5,578.6"/>
<path d="M422.1,572.8L409.7,579.4M423.0,574.6L421.2,571.1M410.6,581.1L408.8,577.6"/>
<path d="M432.0,570.9L448.6,586.1M433.4,569.5L430.7,572.4M449.9,584.6L447.2,587.5"/>
<path d="M432.7,573.9L442.5,590.9M434.4,572.9L430.9,574.9M444.3,589.9L440.8,591.9"/>
<path d="M430.4,571.5L434.6,587.7M432.3,571.0L428.5,572.0M436.5,587.2L432.7,588.2"/>
<path d="M432.5,589.3L434.5,603.1M434.5,589.0L430.6,589.5M436.4,602.9L432.5,603.4"/>
<path d="M429.0,635.5L428.8,657.9M431.0,635.5L427.0,635.5M430.8,657.9L426.8,657.9"/>
<path d="M417.7,635.2L414.1,654.4M419.6,635.5L415.7,634.8M416.1,654.8L412.2,654.1"/>
<path d="M407.6,627.3L401.6,643.1M409.4,628.0L405.7,626.6M403.5,643.8L399.8,642.4"/>
<path d="M414.8,593.4L407.6,605.4M416.5,594.4L413.1,592.4M409.3,606.4L405.9,604.4"/>
<path d="M404.1,577.9L382.9,585.5M404.7,579.8L403.4,576.1M383.6,587.3L382.3,583.6"/>
<path d="M371.9,578.8L352.5,582.2M372.2,580.8L371.5,576.9M352.9,584.1L352.2,580.2"/>
<path d="M345.9,569.1L329.1,569.1M345.9,571.1L345.9,567.1M329.1,571.1L329.1,567.1"/>
<path d="M346.5,554.3L332.7,551.9M346.2,556.3L346.8,552.3M332.4,553.9L333.0,549.9"/>
<path d="M365.7,545.4L344.7,537.8M365.0,547.3L366.4,543.6M344.0,539.6L345.4,535.9"/>
<path d="M393.5,548.0L376.5,538.2M392.5,549.7L394.5,546.3M375.5,539.9L377.5,536.5"/>
</g>
<circle cx="428.7" cy="491.3" r="2.8" fill="url(#gB)"/>
<circle cx="442.5" cy="493" r="2.8" fill="url(#gB)"/>
<circle cx="453.3" cy="502.6" r="2.8" fill="url(#gB)"/>
<circle cx="446.3" cy="538.4" r="2.8" fill="url(#gB)"/>
<circle cx="424.4" cy="541" r="2.8" fill="url(#gB)"/>
<circle cx="464" cy="555.9" r="2.8" fill="url(#gB)"/>
<circle cx="496" cy="557" r="2.8" fill="url(#gB)"/>
<circle cx="499" cy="569.1" r="2.8" fill="url(#gB)"/>
<circle cx="520.9" cy="569.1" r="2.8" fill="url(#gB)"/>
<circle cx="518.4" cy="584.7" r="2.8" fill="url(#gB)"/>
<circle cx="502.8" cy="595.8" r="2.8" fill="url(#gB)"/>
<circle cx="473.4" cy="594.1" r="2.8" fill="url(#gB)"/>
<circle cx="441.6" cy="561.2" r="2.8" fill="url(#gB)"/>
<circle cx="433.1" cy="564.4" r="2.8" fill="url(#gB)"/>
<circle cx="425.8" cy="558.5" r="2.8" fill="url(#gB)"/>
<circle cx="420.2" cy="554.8" r="2.8" fill="url(#gB)"/>
<circle cx="417" cy="559.1" r="2.8" fill="url(#gB)"/>
<circle cx="425.5" cy="564.9" r="2.8" fill="url(#gB)"/>
<circle cx="433.1" cy="572.5" r="2.8" fill="url(#gB)"/>
<circle cx="425.5" cy="573.6" r="2.8" fill="url(#gB)"/>
<circle cx="415.9" cy="576.1" r="2.8" fill="url(#gB)"/>
<circle cx="440.3" cy="578.5" r="2.8" fill="url(#gB)"/>
<circle cx="437.6" cy="582.4" r="2.8" fill="url(#gB)"/>
<circle cx="432.5" cy="579.6" r="2.8" fill="url(#gB)"/>
<circle cx="433.5" cy="596.2" r="2.8" fill="url(#gB)"/>
<circle cx="428.9" cy="646.7" r="2.8" fill="url(#gB)"/>
<circle cx="415.9" cy="644.8" r="2.8" fill="url(#gB)"/>
<circle cx="404.6" cy="635.2" r="2.8" fill="url(#gB)"/>
<circle cx="411.2" cy="599.4" r="2.8" fill="url(#gB)"/>
<circle cx="393.5" cy="581.7" r="2.8" fill="url(#gB)"/>
<circle cx="362.2" cy="580.5" r="2.8" fill="url(#gB)"/>
<circle cx="337.5" cy="569.1" r="2.8" fill="url(#gB)"/>
<circle cx="339.6" cy="553.1" r="2.8" fill="url(#gB)"/>
<circle cx="355.2" cy="541.6" r="2.8" fill="url(#gB)"/>
<circle cx="385" cy="543.1" r="2.8" fill="url(#gB)"/>
<polyline fill="none" stroke="#ff0000" stroke-width="1.35" stroke-linejoin="round" points="438.3,479.6 450.6,493 452.3,520.7 445.2,546.3 437.8,559.1 429.7,568.8 442,562.3 473,558 503.9,563.5 518.1,578.8 504.9,590.5 470.8,589.2 442,579.2 429.7,568.8 436.7,587.7 438.2,604.8 434,638.9 419.5,658 407.8,644.2 405.7,616.5 414.8,589.8 429.7,568.8 413.8,575 385,579.5 354.1,574 340.2,559.5 354.1,547.4 386.1,548.4 417,560.5 429.7,568.8 424.4,558 420.2,533.5 424.4,498.8 438.3,479.6"/>
<text x="429.0" y="462.4" text-anchor="middle">90</text>
<text x="488.4" y="476.4" text-anchor="middle">60</text>
<text x="526.3" y="515.3" text-anchor="middle">30</text>
<text x="537.2" y="572.6" text-anchor="middle">0</text>
<text x="529.5" y="632.3" text-anchor="middle">330</text>
<text x="491" y="670.7" text-anchor="middle">300</text>
<text x="429.1" y="685.9" text-anchor="middle">270</text>
<text x="367.4" y="670.6" text-anchor="middle">240</text>
<text x="328" y="631.6" text-anchor="middle">210</text>
<text x="317" y="573" text-anchor="middle">180</text>
<text x="328.4" y="514.6" text-anchor="middle">150</text>
<text x="369.1" y="476.4" text-anchor="middle">120</text>
</g>
</svg></body></html>
